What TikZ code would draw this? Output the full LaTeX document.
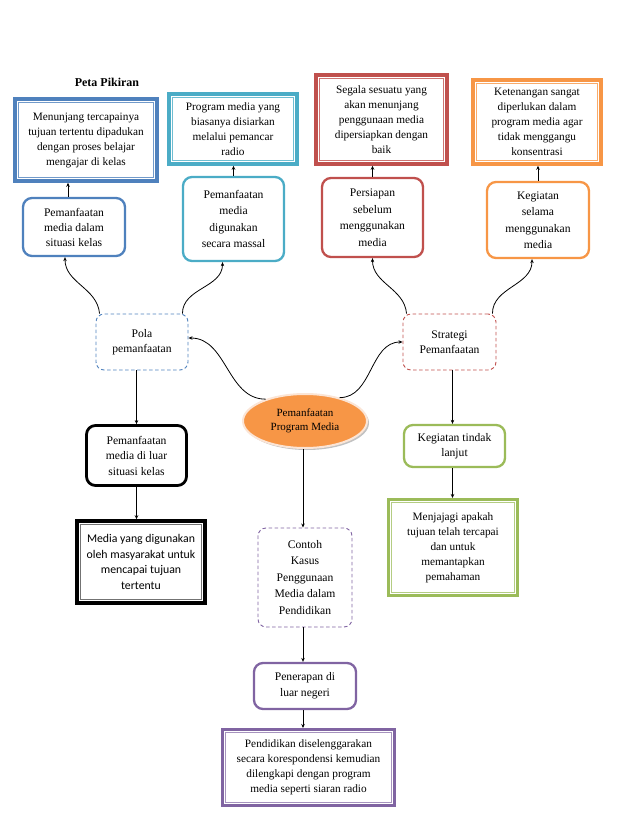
\documentclass[tikz,border=0pt]{standalone}
\usepackage{fontspec}
\setmainfont{Liberation Serif}
\newfontfamily\carlito{Carlito}
\usetikzlibrary{arrows.meta,shapes.geometric,shadows}
\definecolor{cblue}{HTML}{4F81BD}
\definecolor{cteal}{HTML}{4BACC6}
\definecolor{cred}{HTML}{C0504D}
\definecolor{corange}{HTML}{F79646}
\definecolor{cgreen}{HTML}{9BBB59}
\definecolor{cpurple}{HTML}{8064A2}
\definecolor{ccream}{HTML}{FBE5D6}
\tikzset{
  base/.style={align=center, inner sep=0pt, font=\fontsize{11.3}{15}\selectfont},
  dbox/.style 2 args={base, draw=#1, line width=3.5pt, fill=white,
    path picture={\draw[#2, line width=0.9pt]
      ([shift={(3.4pt,3.4pt)}]path picture bounding box.south west) rectangle
      ([shift={(-3.4pt,-3.4pt)}]path picture bounding box.north east);}},
  rbox/.style={base, draw=#1, line width=2.3pt, rounded corners=9pt, fill=white,
    font=\fontsize{11.6}{16.5}\selectfont},
  dashbox/.style={base, draw=#1, line width=0.9pt, dash pattern=on 3.5pt off 2.5pt,
    rounded corners=8pt, font=\fontsize{11.6}{15}\selectfont},
  conn/.style={-{Stealth[length=4pt,width=3.5pt]}, line width=0.8pt},
}
\begin{document}
\begin{tikzpicture}[x=1pt,y=-1pt]
\useasboundingbox (0,0) rectangle (638,826);

\node[font=\bfseries\fontsize{12}{14}\selectfont] (title) at (107,82) {Peta Pikiran};

% top double boxes
\node[dbox={cblue}{cblue!80}, minimum width=142, minimum height=82] (a1) at (86,140)
  {Menunjang tercapainya\\tujuan tertentu dipadukan\\dengan proses belajar\\mengajar di kelas};
\node[dbox={cteal}{cteal!80}, minimum width=128, minimum height=70] (b1) at (233,129)
  {Program media yang\\biasanya disiarkan\\melalui pemancar\\radio};
\node[dbox={cred}{cred!80}, minimum width=131, minimum height=89] (c1) at (381.5,119.5)
  {Segala sesuatu yang\\akan menunjang\\penggunaan media\\dipersiapkan dengan\\baik};
\node[dbox={corange}{corange!80}, minimum width=128, minimum height=84] (d1) at (537,122)
  {Ketenangan sangat\\diperlukan dalam\\program media agar\\tidak menggangu\\konsentrasi};

% rounded boxes row
\node[rbox=cblue, minimum width=102, minimum height=58, font=\fontsize{11.6}{15}\selectfont] (a2) at (74,227)
  {Pemanfaatan\\media dalam\\situasi kelas};
\node[rbox=cteal, minimum width=101, minimum height=84] (b2) at (233.5,219)
  {Pemanfaatan\\media\\digunakan\\secara massal};
\node[rbox=cred, minimum width=101, minimum height=79] (c2) at (372.5,217.5)
  {Persiapan\\sebelum\\menggunakan\\media};
\node[rbox=corange, minimum width=102, minimum height=76] (d2) at (538,220)
  {Kegiatan\\selama\\menggunakan\\media};

% dashed
\node[dashbox=cblue, minimum width=92, minimum height=56] (pola) at (142,342)
  {Pola\\pemanfaatan};
\node[dashbox=cred, minimum width=93, minimum height=56] (strat) at (449.5,342)
  {Strategi\\Pemanfaatan};

% central ellipse
\node[ellipse, fill=corange, draw=ccream, line width=2pt, minimum width=124, minimum height=54,
  base, font=\fontsize{11}{14}\selectfont,
  drop shadow={shadow xshift=2pt, shadow yshift=-2pt, fill=black!40, opacity=0.6}] (ell) at (305,421)
  {Pemanfaatan\\Program Media};

% left column
\node[rbox=black, line width=2.8pt, minimum width=100, minimum height=60, font=\fontsize{11.6}{15.5}\selectfont] (luar) at (136.5,455.5)
  {Pemanfaatan\\media di luar\\situasi kelas};
\node[dbox={black}{black!55}, minimum width=128, minimum height=82,
  font=\carlito\fontsize{11.8}{15.5}\selectfont] (media) at (141,562)
  {Media yang digunakan\\oleh masyarakat untuk\\mencapai tujuan\\tertentu};

% right column
\node[rbox=cgreen, minimum width=101, minimum height=42, font=\fontsize{11.6}{15}\selectfont] (kt) at (454.5,446)
  {Kegiatan tindak\\lanjut};
\node[dbox={cgreen}{cgreen!75}, line width=3pt, minimum width=129, minimum height=96] (menj) at (453,547.5)
  {Menjajagi apakah\\tujuan telah tercapai\\dan untuk\\memantapkan\\pemahaman};

% centre column
\node[dashbox=cpurple, minimum width=94, minimum height=99, font=\fontsize{11.6}{16.5}\selectfont] (contoh) at (305,577.5)
  {Contoh\\Kasus\\Penggunaan\\Media dalam\\Pendidikan};
\node[rbox=cpurple, minimum width=102, minimum height=46, font=\fontsize{11.6}{16}\selectfont] (pen) at (305,686)
  {Penerapan di\\luar negeri};
\node[dbox={cpurple}{cpurple!70}, line width=3pt, minimum width=172, minimum height=76] (pend) at (308.5,767.5)
  {Pendidikan diselenggarakan\\secara korespondensi kemudian\\dilengkapi dengan program\\media seperti siaran radio};

% connectors
\draw[conn] (ell.151) to[out=180,in=0] ([yshift=4pt]pola.east);
\draw[conn] (ell.34) to[out=0,in=180] (strat.west);
\draw[conn] ([xshift=4pt]pola.north west) to[out=95,in=-90] ([xshift=-9pt]a2.south);
\draw[conn] ([xshift=-6pt]pola.north east) to[out=90,in=-90] ([xshift=-11pt]b2.south);
\draw[conn] ([xshift=4pt]strat.north west) to[out=95,in=-90] (c2.south);
\draw[conn] ([xshift=-4pt]strat.north east) to[out=90,in=-90] ([xshift=-6pt]d2.south);

\draw[conn] ([xshift=-6pt]a2.north) -- ([xshift=-6pt]a2.north |- a1.south);
\draw[conn] (b2.north) -- (b2.north |- b1.south);
\draw[conn] (c2.north) -- (c2.north |- c1.south);
\draw[conn] (d2.north) -- (d2.north |- d1.south);

\draw[conn] (luar.north |- pola.south) -- (luar.north);
\draw[conn] (luar.south) -- (luar.south |- media.north);
\draw[conn] ([xshift=-2pt]kt.north |- strat.south) -- ([xshift=-2pt]kt.north);
\draw[conn] ([xshift=-2pt]kt.south) -- ([xshift=-2pt]kt.south |- menj.north);
\draw[conn] ([xshift=-2pt]ell.south) -- ([xshift=-2pt]ell.south |- contoh.north);
\draw[conn] ([xshift=-2pt]contoh.south) -- ([xshift=-2pt]contoh.south |- pen.north);
\draw[conn] ([xshift=-2pt]pen.south) -- ([xshift=-2pt]pen.south |- pend.north);
\end{tikzpicture}
\end{document}
